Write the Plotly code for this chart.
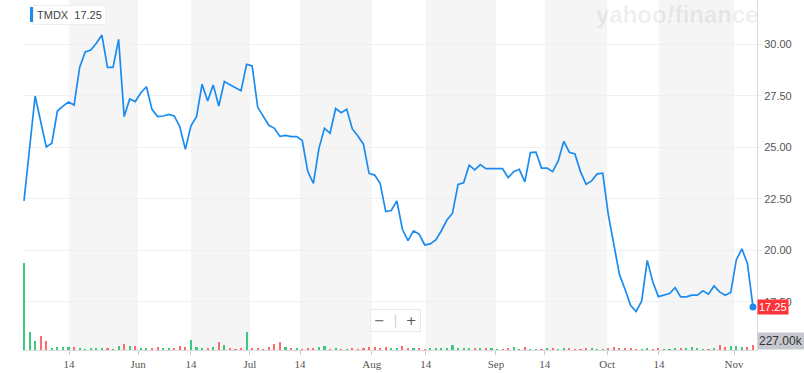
import plotly.graph_objects as go

# ---- data (TMDX, 6-month daily) ----
prices = [
    22.4, 24.95, 27.49, 26.25, 25.02, 25.2, 26.76, 27.0, 27.2, 27.05,
    28.88, 29.63, 29.72, 30.05, 30.45, 28.88, 28.88, 30.24, 26.49, 27.35,
    27.22, 27.65, 27.94, 26.84, 26.49, 26.52, 26.6, 26.52, 26.0, 24.9,
    26.04, 26.49, 28.06, 27.25, 28.03, 27.0, 28.19, 28.04, 27.9, 27.75,
    29.03, 28.95, 26.94, 26.5, 26.07, 25.92, 25.53, 25.58, 25.52, 25.52,
    25.33, 23.82, 23.25, 24.95, 25.92, 25.68, 26.88, 26.68, 26.84, 25.89,
    25.55, 25.15, 23.73, 23.65, 23.25, 21.88, 21.93, 22.4, 21.02, 20.47,
    20.94, 20.79, 20.26, 20.31, 20.5, 20.95, 21.47, 21.8, 23.2, 23.28,
    24.13, 23.9, 24.16, 23.96, 23.96, 23.98, 23.96, 23.53, 23.82, 23.93,
    23.32, 24.74, 24.76, 23.99, 23.99, 23.82, 24.34, 25.29, 24.76, 24.68,
    23.82, 23.21, 23.37, 23.71, 23.74, 21.73, 20.2, 18.83, 18.11, 17.33,
    17.03, 17.54, 19.51, 18.46, 17.75, 17.82, 17.9, 18.19, 17.74, 17.74,
    17.82, 17.82, 18.03, 17.87, 18.27, 17.98, 17.82, 17.95, 19.53, 20.07,
    19.36, 17.25,
]

volumes_k = [
    4180, 850, 430, 670, 450, 110, 145, 145, 145, 130,
    95, 35, 95, 60, 95, 95, 25, 190, 275, 190,
    205, 95, 95, 60, 160, 95, 95, 50, 190, 160,
    480, 130, 95, 60, 160, 370, 240, 60, 25, 60,
    850, 110, 110, 25, 160, 290, 385, 160, 60, 50,
    35, 50, 50, 160, 205, 25, 60, 25, 25, 50,
    25, 60, 130, 130, 95, 130, 60, 60, 190, 95,
    60, 50, 25, 110, 60, 60, 95, 225, 60, 60,
    60, 60, 95, 60, 60, 25, 25, 80, 130, 25,
    145, 25, 25, 25, 60, 60, 25, 60, 60, 25,
    25, 60, 60, 25, 25, 110, 160, 60, 60, 60,
    25, 25, 60, 25, 60, 25, 25, 60, 60, 60,
    145, 60, 25, 25, 60, 225, 130, 180, 190, 160,
    130, 227,
]

tick_labels = ["14", "Jun", "14", "Jul", "14", "Aug", "14", "Sep", "14", "Oct", "14", "Nov"]
tick_index = [8.1, 20.5, 30.0, 40.6, 49.6, 62.5, 72.2, 84.8, 93.6, 104.8, 114.1, 127.6]

price_ticks = [17.5, 20.0, 22.5, 25.0, 27.5, 30.0]
symbol = "TMDX"

# ---- derived ----
n = len(prices)
idx = list(range(n))
up_color = "#3cc97f"
down_color = "#ff6a6a"
vol_colors = [up_color] + [
    up_color if prices[i] >= prices[i - 1] else down_color for i in range(1, n)
]
line_color = "#1a8cf0"

fig = go.Figure()

fig.add_trace(go.Bar(
    x=idx, y=volumes_k, yaxis="y2", marker_color=vol_colors,
    marker_line_width=0, width=0.38, hoverinfo="skip", showlegend=False,
))
fig.add_trace(go.Scatter(
    x=idx, y=prices, mode="lines", line=dict(color=line_color, width=1.7),
    hoverinfo="skip", showlegend=False,
))
fig.add_trace(go.Scatter(
    x=[idx[-1]], y=[prices[-1]], mode="markers",
    marker=dict(color=line_color, size=7), hoverinfo="skip", showlegend=False,
))

# alternating shaded bands (from each "14" tick to the next month tick)
shapes = []
for k in range(0, len(tick_index) - 1, 2):
    shapes.append(dict(
        type="rect", xref="x", yref="paper",
        x0=tick_index[k], x1=tick_index[k + 1], y0=0, y1=1,
        fillcolor="#f5f5f5", line_width=0, layer="below",
    ))

W, H = 804, 373
ml, mr, mt, mb = 23, 47, 0, 23
pw = W - ml - mr
ph = H - mt - mb

def px_x(p):
    return (p - ml) / pw

def px_y(p):
    return (ph - (p - mt)) / ph

# legend marker bar
shapes.append(dict(
    type="rect", xref="paper", yref="paper",
    x0=px_x(30), x1=px_x(33), y0=px_y(22), y1=px_y(7),
    fillcolor=line_color, line_width=0, layer="above",
))

annotations = [
    dict(
        xref="paper", yref="paper", x=px_x(33), y=px_y(14.5),
        xanchor="left", yanchor="middle", showarrow=False,
        text=f"{symbol}  {prices[-1]:.2f}",
        font=dict(family="Liberation Sans, Arial, sans-serif", size=11, color="#444"),
        bgcolor="white", bordercolor="#eeeeee", borderwidth=1, borderpad=3,
    ),
    dict(
        xref="paper", yref="paper", x=px_x(677), y=px_y(14),
        xanchor="center", yanchor="middle", showarrow=False,
        text="yahoo<i>!</i>finance",
        font=dict(family="Liberation Sans, Arial, sans-serif", size=24, color="rgba(0,0,0,0.07)",
                  weight="bold"),
    ),
    dict(
        xref="paper", yref="y", x=1, y=prices[-1],
        xanchor="left", yanchor="middle", showarrow=False,
        text=f"{prices[-1]:.2f}",
        font=dict(family="Liberation Sans, Arial, sans-serif", size=11, color="white"),
        bgcolor="#ff333a", borderpad=1,
    ),
    dict(
        xref="paper", yref="y2", x=1, y=0,
        xanchor="left", yanchor="bottom", showarrow=False,
        text=f"{volumes_k[-1]:.2f}k",
        font=dict(family="Liberation Sans, Arial, sans-serif", size=12, color="#333"),
        bgcolor="#c6c9cf", borderpad=1,
    ),
    dict(
        xref="paper", yref="paper", x=px_x(395), y=px_y(320),
        xanchor="center", yanchor="middle", showarrow=False,
        text="−  <span style='color:#d0d0d0'>|</span>  +",
        font=dict(family="DejaVu Sans, sans-serif", size=13, color="#555"),
        bgcolor="white", bordercolor="#e8e8e8", borderwidth=1, borderpad=3,
    ),
]

fig.update_layout(
    width=W, height=H,
    margin=dict(l=ml, r=mr, t=mt, b=mb),
    paper_bgcolor="white", plot_bgcolor="white",
    bargap=0,
    shapes=shapes, annotations=annotations,
    xaxis=dict(
        range=[-0.18, n - 1 + 0.72],
        tickmode="array", tickvals=tick_index, ticktext=tick_labels,
        showgrid=False, zeroline=False,
        showline=True, linecolor="#dcdcdc", linewidth=1,
        ticks="outside", ticklen=4, tickcolor="#cccccc",
        tickfont=dict(family="Liberation Serif, Times New Roman, serif", size=11, color="#555"),
    ),
    yaxis=dict(
        side="right", range=[15.16, 32.15],
        tickmode="array", tickvals=price_ticks,
        ticktext=[f"{v:.2f}" for v in price_ticks],
        showgrid=True, gridcolor="#f0f0f0", gridwidth=1, zeroline=False,
        showline=True, linecolor="#dcdcdc", linewidth=1,
        ticks="outside", ticklen=4, tickcolor="#eeeeee",
        tickfont=dict(family="Liberation Sans, Arial, sans-serif", size=11, color="#555"),
    ),
    yaxis2=dict(
        overlaying="y", range=[0, 350 * 48], visible=False,
    ),
)

fig.write_html(
    "out.html",
    config={"displayModeBar": False},
    post_script="document.body.style.margin='0';document.body.style.overflow='hidden';",
)
